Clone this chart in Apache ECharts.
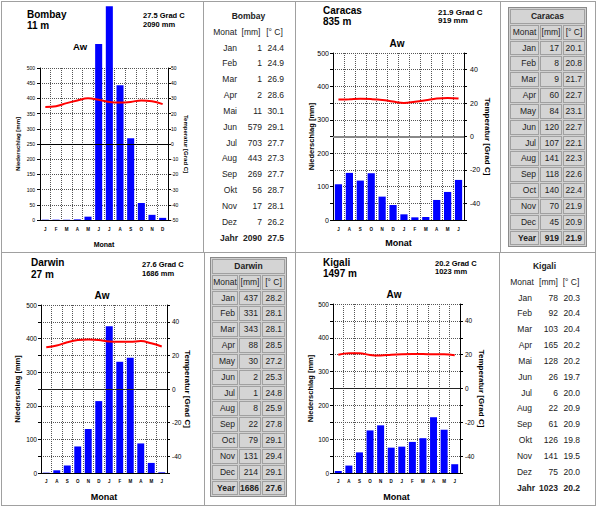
<!DOCTYPE html>
<html><head><meta charset="utf-8">
<script src="https://cdn.jsdelivr.net/npm/echarts@6/dist/echarts.min.js"></script>
<style>
html,body{margin:0;padding:0;background:#fff;}
#wrap{position:relative;width:597px;height:509px;overflow:hidden;font-family:"Liberation Sans",Arial,sans-serif;}
#chart{position:absolute;left:0;top:0;width:597px;height:509px;}
#overlay{position:absolute;left:0;top:0;width:597px;height:509px;pointer-events:none;}
.ln{position:absolute;background:#a0a0a0;}
.c{position:absolute;white-space:nowrap;font-size:8.5px;color:#222;box-sizing:border-box;}
.fc{position:absolute;box-sizing:border-box;background:#d4d4d4;border:1px solid #9a9a9a;}
</style></head>
<body><div id="wrap"><div id="chart"></div><div id="overlay"></div></div>
<script>
// ---------- data ----------
const stations = ['Bombay', 'Caracas', 'Darwin', 'Kigali'];
const elevations = ['11 m', '835 m', '27 m', '1497 m'];
const annualTempText = ['27.5 Grad C', '21.9 Grad C', '27.6 Grad C', '20.2 Grad C'];
const annualPrecipText = ['2090 mm', '919 mm', '1686 mm', '1023 mm'];
const climateClass = ['Aw', 'Aw', 'Aw', 'Aw'];
const monthKeys = ['Jan','Feb','Mar','Apr','May','Jun','Jul','Aug','Sep','Oct','Nov','Dec'];
const monthsDE = ['Jan','Feb','Mar','Apr','Mai','Jun','Jul','Aug','Sep','Okt','Nov','Dez'];
const monthsEN = ['Jan','Feb','Mar','Apr','May','Jun','Jul','Aug','Sep','Oct','Nov','Dec'];
const tableHeader = ['Monat', '[mm]', '[° C]'];
const totalLabels = ['Jahr', 'Year', 'Year', 'Jahr'];

const bombayPrecip = [1, 1, 1, 2, 11, 579, 703, 443, 269, 56, 17, 7];
const bombayTemp = [24.4, 24.9, 26.9, 28.6, 30.1, 29.1, 27.7, 27.3, 27.7, 28.7, 28.1, 26.2];
const caracasPrecip = [17, 8, 9, 60, 84, 120, 107, 141, 118, 140, 70, 45];
const caracasTemp = [20.1, 20.8, 21.7, 22.7, 23.1, 22.7, 22.1, 22.3, 22.6, 22.4, 21.9, 20.9];
const darwinPrecip = [437, 331, 343, 88, 30, 2, 1, 8, 22, 79, 131, 214];
const darwinTemp = [28.2, 28.1, 28.1, 28.5, 27.2, 25.3, 24.8, 25.9, 27.8, 29.1, 29.4, 29.1];
const kigaliPrecip = [78, 92, 103, 165, 128, 26, 6, 22, 61, 126, 141, 75];
const kigaliTemp = [20.3, 20.4, 20.4, 20.2, 20.2, 19.7, 20.0, 20.9, 20.9, 19.8, 19.5, 20.0];
const annualPrecip = [2090, 919, 1686, 1023];
const annualTemp = [27.5, 21.9, 27.6, 20.2];

const precipAll = [bombayPrecip, caracasPrecip, darwinPrecip, kigaliPrecip];
const tempAll = [bombayTemp, caracasTemp, darwinTemp, kigaliTemp];
const chartStartMonth = [0, 6, 6, 6];
const tableMonthNames = [monthsDE, monthsEN, monthsEN, monthsDE];

// ---------- layout ----------
const L = [
  {grid:{left:40,top:68,width:128,height:152}, tick:5, lStep:50, rStep:10, rMax:50, lMargin:5, rMargin:3,
   lName:6, lGap:19, rName:6, rGap:15, mon:4.5, monMargin:7, monName:7, monGap:21, zc:'#000', zw:1,
   title:[27,14,25], info:[143,15,24.5], infoFont:7.5, aw:[80,46,9.5], titleFont:10},
  {grid:{left:333,top:53,width:131,height:167}, tick:7, lStep:100, rStep:20, rMax:40, lMargin:4, rMargin:6,
   lName:7.5, lGap:18, rName:8, rGap:19, mon:4.5, monMargin:7, monName:9, monGap:18.5, zc:'#888', zw:2,
   title:[323,10,21], info:[438,12.3,20.5], infoFont:8, aw:[397,43,10], titleFont:10},
  {grid:{left:41,top:305,width:126,height:168}, tick:6.5, lStep:100, rStep:20, rMax:40, lMargin:4, rMargin:5,
   lName:7.5, lGap:20, rName:8, rGap:16, mon:4.5, monMargin:6, monName:9, monGap:19.5, zc:'#222', zw:1,
   title:[31,262.7,274], info:[142,264,273.3], infoFont:7.5, aw:[102,295,10], titleFont:10},
  {grid:{left:333,top:304,width:127,height:169}, tick:6.5, lStep:100, rStep:20, rMax:40, lMargin:4, rMargin:5,
   lName:7.5, lGap:19, rName:8, rGap:17, mon:4.5, monMargin:6, monName:9, monGap:19.5, zc:'#222', zw:1,
   title:[323,262,273], info:[435,263.3,271.7], infoFont:7.5, aw:[394,294,10], titleFont:10}
];

const rotate = (a, s) => a.slice(s).concat(a.slice(0, s));
const FF = '"Liberation Sans", Arial, sans-serif';

const option = {animation:false, grid:[], xAxis:[], yAxis:[], series:[], graphic:{elements:[]}};

function txt(x, y, text, size, weight, align) {
  option.graphic.elements.push({type:'text', x:x, y:y, silent:true, z:50,
    style:{text:text, fontSize:size, fontWeight:weight, fontFamily:FF, fill:'#000',
      align:align, verticalAlign:'middle', textAlign:align, textVerticalAlign:'middle'}});
}

stations.forEach((name, i) => {
  const c = L[i];
  const s = chartStartMonth[i];
  const cats = rotate(monthKeys, s);
  const p = rotate(precipAll[i], s);
  const t = rotate(tempAll[i], s);
  option.grid.push(Object.assign({containLabel:false, outerBoundsMode:'none'}, c.grid));
  option.xAxis.push({gridIndex:i, type:'category', data:cats, boundaryGap:true,
    axisLine:{show:true, lineStyle:{color:'#000', width:1}}, axisTick:{show:false},
    axisLabel:{interval:0, formatter:v => v[0], fontSize:c.mon, fontWeight:'bold', color:'#000', margin:c.monMargin, fontFamily:FF},
    splitLine:{show:true, interval:0, lineStyle:{type:'dotted', color:'#555', width:1}},
    name:'Monat', nameLocation:'middle', nameGap:c.monGap, nameMoveOverlap:false,
    nameTextStyle:{fontSize:c.monName, fontWeight:'bold', color:'#000', fontFamily:FF}});
  option.yAxis.push({gridIndex:i, type:'value', position:'left', min:0, max:500, interval:50,
    axisLine:{show:true, lineStyle:{color:'#000', width:1}},
    axisTick:{show:true, length:3, lineStyle:{color:'#000'}},
    axisLabel:{fontSize:c.tick, color:'#000', margin:c.lMargin, fontFamily:FF, showMinLabel:true, showMaxLabel:true,
      formatter:v => (v % c.lStep === 0 ? String(v) : '')},
    splitLine:{show:true, lineStyle:{type:'dotted', color:'#555', width:1}},
    name:'Niederschlag [mm]', nameLocation:'middle', nameGap:c.lGap, nameRotate:90, nameMoveOverlap:false,
    nameTextStyle:{fontSize:c.lName, fontWeight:'bold', color:'#000', fontFamily:FF}});
  option.yAxis.push({gridIndex:i, type:'value', position:'right', min:-50, max:50, interval:10,
    axisLine:{show:true, lineStyle:{color:'#000', width:1}},
    axisTick:{show:true, length:3, lineStyle:{color:'#000'}},
    axisLabel:{fontSize:c.tick, color:'#000', margin:c.rMargin, fontFamily:FF, showMinLabel:true, showMaxLabel:true,
      formatter:v => ((v % c.rStep === 0 && Math.abs(v) <= c.rMax) ? String(v) : '')},
    splitLine:{show:false},
    name:'Temperatur [Grad C]', nameLocation:'middle', nameGap:c.rGap, nameRotate:-90, nameMoveOverlap:false,
    nameTextStyle:{fontSize:c.rName, fontWeight:'bold', color:'#000', fontFamily:FF}});
  // 0 °C reference line (behind bars)
  option.series.push({type:'line', xAxisIndex:i, yAxisIndex:2*i+1, data:[], z:1, silent:true,
    markLine:{silent:true, symbol:['none','none'], label:{show:false},
      lineStyle:{type:'solid', color:c.zc, width:c.zw}, data:[{yAxis:0}], animation:false}});
  option.series.push({type:'bar', xAxisIndex:i, yAxisIndex:2*i, data:p, barWidth:'66%', clip:false, z:2,
    itemStyle:{color:'#0000ff'}, silent:true});
  option.series.push({type:'line', xAxisIndex:i, yAxisIndex:2*i+1, data:t, smooth:0.4, showSymbol:false, symbol:'none', z:3,
    lineStyle:{color:'#ff0000', width:2}, itemStyle:{color:'#ff0000'}, silent:true});
  txt(c.title[0], c.title[1], name, c.titleFont, 'bold', 'left');
  txt(c.title[0], c.title[2], elevations[i], c.titleFont, 'bold', 'left');
  txt(c.info[0], c.info[1], annualTempText[i], c.infoFont, 'bold', 'left');
  txt(c.info[0], c.info[2], annualPrecipText[i], c.infoFont, 'bold', 'left');
  txt(c.aw[0], c.aw[1], climateClass[i], c.aw[2], 'bold', 'center');
});

const chart = echarts.init(document.getElementById('chart'), null, {renderer:'svg', width:597, height:509});
chart.setOption(option);

// ---------- frames & tables (HTML text) ----------
const ov = document.getElementById('overlay');
function div(cls, st, text) {
  const d = document.createElement('div');
  d.className = cls;
  Object.assign(d.style, st);
  if (text !== undefined) d.textContent = text;
  ov.appendChild(d);
  return d;
}
const px = v => v + 'px';
// cell frame lines
[[1,1,595,1],[1,252,595,1],[1,505,595,1]].forEach(a => div('ln', {left:px(a[0]), top:px(a[1]), width:px(a[2]), height:px(a[3])}));
[[1,1,1,505],[595,1,1,505],[203,1,1,251],[295,1,1,251],[500,1,1,251],[204,252,1,253],[295,252,1,253],[499,252,1,253]]
  .forEach(a => div('ln', {left:px(a[0]), top:px(a[1]), width:px(a[2]), height:px(a[3])}));

const tableSpecs = [
  {y0:0,   framed:false, cols:[[212,238],[239,263],[264,285]], pad:[1,1,1]},
  {y0:0,   framed:true,  cols:[[510,539],[540,562],[563,585]], pad:[2,2,2]},
  {y0:250, framed:true,  cols:[[212,238],[239,261],[262,285]], pad:[2,2,2]},
  {y0:250, framed:false, cols:[[508,536],[538,559],[561,581]], pad:[4,1,1]}
];
const pitch = 15.83;
tableSpecs.forEach((sp, i) => {
  const cy = r => sp.y0 + 16.4 + pitch * r;
  const L0 = sp.cols[0][0], R0 = sp.cols[2][1];
  if (sp.framed) {
    div('fc', {left:px(L0-2), top:px(cy(0)-pitch/2-1), width:px(R0-L0+4), height:px(pitch*15+2), background:'#d0d0d0', border:'1px solid #8a8a8a'});
  }
  const rowH = pitch - 1;
  function cell(l, r, row, text, align, pad, bold) {
    const st = {left:px(l), top:px(cy(row)-rowH/2), width:px(r-l), height:px(rowH), lineHeight:px(rowH),
      textAlign:align, paddingRight:px(align === 'right' ? pad : 0), fontWeight:bold ? 'bold' : 'normal'};
    if (sp.framed) Object.assign(st, {background:'#d4d4d4', border:'1px solid #a0a0a0', lineHeight:px(rowH-2)});
    div('c', st, text);
  }
  cell(L0, R0, 0, stations[i], 'center', 0, true);
  tableHeader.forEach((h, k) => cell(sp.cols[k][0], sp.cols[k][1], 1, h, 'center', 0, false));
  for (let m = 0; m < 12; m++) {
    cell(sp.cols[0][0], sp.cols[0][1], 2+m, tableMonthNames[i][m], 'right', sp.pad[0], false);
    cell(sp.cols[1][0], sp.cols[1][1], 2+m, String(precipAll[i][m]), 'right', sp.pad[1], false);
    cell(sp.cols[2][0], sp.cols[2][1], 2+m, tempAll[i][m].toFixed(1), 'right', sp.pad[2], false);
  }
  cell(sp.cols[0][0], sp.cols[0][1], 14, totalLabels[i], 'right', sp.framed ? sp.pad[0] : sp.pad[0]-3, true);
  cell(sp.cols[1][0], sp.cols[1][1], 14, String(annualPrecip[i]), 'right', sp.pad[1], true);
  cell(sp.cols[2][0], sp.cols[2][1], 14, annualTemp[i].toFixed(1), 'right', sp.pad[2], true);
});
</script>
</body></html>
